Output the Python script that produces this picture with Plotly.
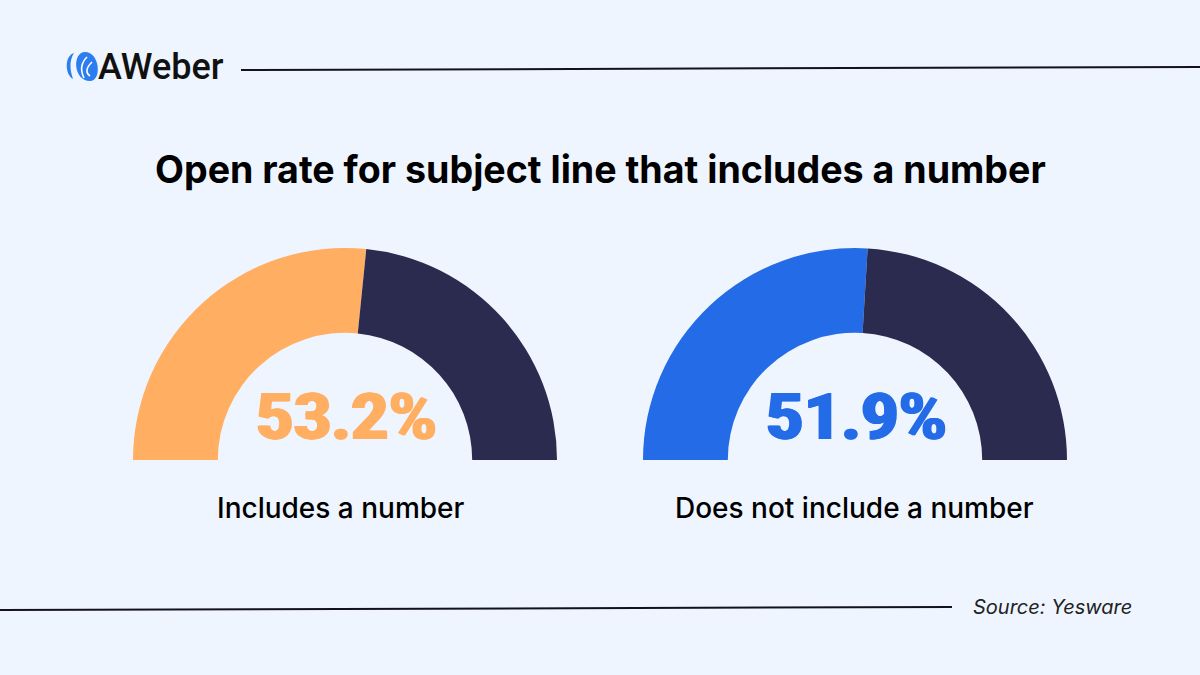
import plotly.graph_objects as go

W = 1200
H = 675

title = "Open rate for subject line that includes a number"
labels = ["Includes a number", "Does not include a number"]
rates = [53.2, 51.9]
rate_text = ["53.2%", "51.9%"]
colors = ["#FFAE62", "#246BE8"]
navy = "#2B2B50"
bg = "#EFF5FF"
font = "Inter"

# pixel helpers, the picture is laid out in screen pixels
def px(x):
    return x / W

def py(y):
    return 1 - y / H

fig = go.Figure()

centers = [345, 855]
radius = 212
for i in range(2):
    c = centers[i]
    rest = 100 - rates[i]
    fig.add_trace(go.Pie(
        values=[rates[i], rest, 100],
        sort=False,
        direction="clockwise",
        rotation=270,
        hole=0.6,
        textinfo="none",
        hoverinfo="skip",
        showlegend=False,
        marker=dict(colors=[colors[i], navy, "rgba(0,0,0,0)"], line=dict(width=0)),
        domain=dict(x=[px(c - radius), px(c + radius)], y=[py(460 + radius), py(460 - radius)]),
    ))

def text(x, y, s, size, color="#000000", weight=400, style="normal", family=font, anchor="center", shadow="none"):
    fig.add_annotation(
        x=px(x), y=py(y), xref="paper", yref="paper", text=s, showarrow=False,
        xanchor=anchor, yanchor="middle",
        font=dict(size=size, color=color, family=family, weight=weight, style=style, shadow=shadow),
    )

# Roboto bold is lighter than the reference numbers, a thin shadow thickens it
def heavy(color):
    return "1px 0 0 %s, -1px 0 0 %s" % (color, color)

text(600, 169, title, 37.6, weight=700)
text(346, 417, rate_text[0], 65, colors[0], 900, family="Roboto", shadow=heavy(colors[0]))
text(856, 417, rate_text[1], 65, colors[1], 900, family="Roboto", shadow=heavy(colors[1]))
text(341, 508, labels[0], 28, weight=500)
text(854, 508, labels[1], 28, weight=500)
text(1052, 607, "Source: Yesware", 20, "#222222", style="italic")
text(96, 67, "AWeber", 36, "#111111", 500, family="Roboto", anchor="left")

def rule(x0, y0, x1, y1):
    fig.add_shape(type="line", xref="paper", yref="paper",
                  x0=px(x0), y0=py(y0), x1=px(x1), y1=py(y1),
                  line=dict(color="#111122", width=2))

rule(241, 70, 1200, 67)
rule(0, 610, 952, 607)

# logo mark, a crescent and a tilted blue tyre with white arcs
def curve(points, close=True):
    p = ["%f %f" % (px(x), py(y)) for x, y in points]
    s = "M " + p[0] + " C " + " ".join(p[1:4]) + " C " + " ".join(p[4:7])
    return s + (" Z" if close else "")

logo_blue = "#2B7DF0"
fig.add_shape(type="path", xref="paper", yref="paper", line=dict(width=0), fillcolor=logo_blue,
              path=curve([(74, 53), (64, 56), (65, 75), (73, 79), (70, 70), (69, 61), (74, 53)]))
fig.add_shape(type="path", xref="paper", yref="paper", line=dict(width=0), fillcolor=logo_blue,
              path=curve([(85, 52), (72, 52), (73, 81), (90, 81), (102, 81), (100, 52), (85, 52)]))
for a, b, c_, d in [(87, 57, 84, 78), (92, 62, 90, 76)]:
    fig.add_shape(type="path", xref="paper", yref="paper", line=dict(color="white", width=1.6),
                  path="M %f %f Q %f %f %f %f" % (px(a), py(b), px(a - 9), py(b + 9), px(c_), py(d)))

fig.update_layout(
    width=W, height=H,
    margin=dict(l=0, r=0, t=0, b=0),
    paper_bgcolor=bg,
    plot_bgcolor=bg,
)

fig.write_html("out.html", config=dict(displayModeBar=False),
               post_script="document.body.style.margin='0';document.body.style.overflow='hidden';")
